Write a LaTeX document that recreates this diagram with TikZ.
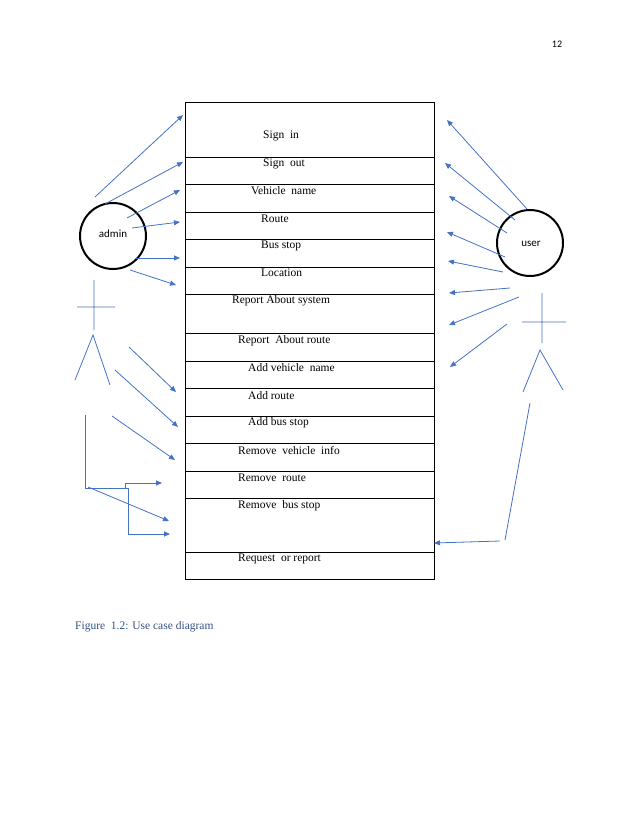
\documentclass[tikz,border=0pt]{standalone}
\usepackage{fontspec}
\setmainfont{Liberation Serif}
\newfontfamily\calfont{Carlito}
\usetikzlibrary{arrows.meta}
\definecolor{ublue}{RGB}{68,114,196}
\definecolor{capc}{RGB}{50,80,130}
\begin{document}
\begin{tikzpicture}[x=1pt,y=-1pt,
  arr/.style={ublue,line width=0.8pt,-{Triangle[length=6pt,width=5pt]}},
  ln/.style={ublue,line width=0.8pt},
  lbl/.style={anchor=west,font=\fontsize{11.5}{12}\selectfont,inner sep=0}]
\useasboundingbox (0,0) rectangle (638,826);
\node[font=\calfont\fontsize{10}{10}\selectfont] (pg) at (557,44) {12};
\draw[line width=0.7pt] (185,102) rectangle (434,579);
\foreach \y in {157,184,212,239,267,294,333,361,388,416,443,471,498,552}
  \draw[line width=0.7pt] (185,\y) -- (434,\y);
\node[lbl] (t1) at (263,136) {Sign\ \ in};
\node[lbl] (t2) at (263,164) {Sign\ \ out};
\node[lbl] (t3) at (251,191) {Vehicle\ \ name};
\node[lbl] (t4) at (261,219) {Route};
\node[lbl] (t5) at (261,246) {Bus stop};
\node[lbl] (t6) at (261,273) {Location};
\node[lbl] (t7) at (232,301) {Report\ About system};
\node[lbl] (t8) at (238,341) {Report\ \ About route};
\node[lbl] (t9) at (248,368) {Add vehicle\ \ name};
\node[lbl] (t10) at (248,396) {Add route};
\node[lbl] (t11) at (248,423) {Add bus stop};
\node[lbl] (t12) at (238,451) {Remove\ \ vehicle\ \ info};
\node[lbl] (t13) at (238,478) {Remove\ \ route};
\node[lbl] (t14) at (238,506) {Remove\ \ bus stop};
\node[lbl] (t15) at (238,559) {Request\ \ or report};
\node[draw,circle,line width=2pt,minimum size=66pt] (admin) at (113,236) {};
\node[font=\calfont\fontsize{11}{11}\selectfont] (adl) at (113,234) {admin};
\node[draw,circle,line width=2pt,minimum size=66pt] (user) at (530,243) {};
\node[font=\calfont\fontsize{11}{11}\selectfont] (usl) at (531,244) {user};
% admin arrows
\coordinate (a1s) at (95,197); \coordinate (a1e) at (183,115);
\coordinate (a2s) at (105,204); \coordinate (a2e) at (183,162);
\coordinate (a3s) at (127,218); \coordinate (a3e) at (180,190);
\coordinate (a4s) at (132,228); \coordinate (a4e) at (180,222);
\coordinate (a5s) at (135,258); \coordinate (a5e) at (180,258);
\coordinate (a6s) at (130,270); \coordinate (a6e) at (176,285);
\coordinate (a7s) at (129,347); \coordinate (a7e) at (176,392);
\coordinate (a8s) at (115,370); \coordinate (a8e) at (178,427);
\coordinate (a9s) at (112,416); \coordinate (a9e) at (175,460);
\foreach \i in {1,...,9} \draw[arr] (a\i s) -- (a\i e);
% admin stick
\draw[ln] (94,280) -- (94,330) (77,307) -- (115,307) (75,380) -- (93,335) -- (110,385);
% tree
\coordinate (tr0) at (85,415); \coordinate (tr1) at (85,488);
\draw[ln] (tr0) -- (tr1) -- (125,488) -- (125,483);
\draw[arr] (125,483) -- (162,483);
\draw[arr] (88,487) -- (169,521);
\draw[ln] (125,488) -- (128,488) -- (128,534);
\draw[arr] (128,534) -- (170,534);
% user arrows
\coordinate (u1s) at (527,209); \coordinate (u1e) at (447,120);
\coordinate (u2s) at (515,220); \coordinate (u2e) at (445,163);
\coordinate (u3s) at (507,233); \coordinate (u3e) at (449,196);
\coordinate (u4s) at (505,257); \coordinate (u4e) at (447,232);
\coordinate (u5s) at (503,272); \coordinate (u5e) at (448,261);
\coordinate (u6s) at (510,288); \coordinate (u6e) at (449,293);
\coordinate (u7s) at (519,297); \coordinate (u7e) at (449,325);
\coordinate (u8s) at (507,324); \coordinate (u8e) at (450,367);
\foreach \i in {1,...,8} \draw[arr] (u\i s) -- (u\i e);
\draw[ln] (542,293) -- (542,343) (522,322) -- (566,322) (523,392) -- (540,350) -- (563,390);
\draw[ln] (530,403) -- (505,540);
\draw[arr] (500,541) -- (434,543);
\node[anchor=west,inner sep=0,text=capc,font=\fontsize{11.5}{12}\selectfont] (cap) at (75,627) {Figure\ \ 1.2: Use case diagram};
\end{tikzpicture}
\end{document}
